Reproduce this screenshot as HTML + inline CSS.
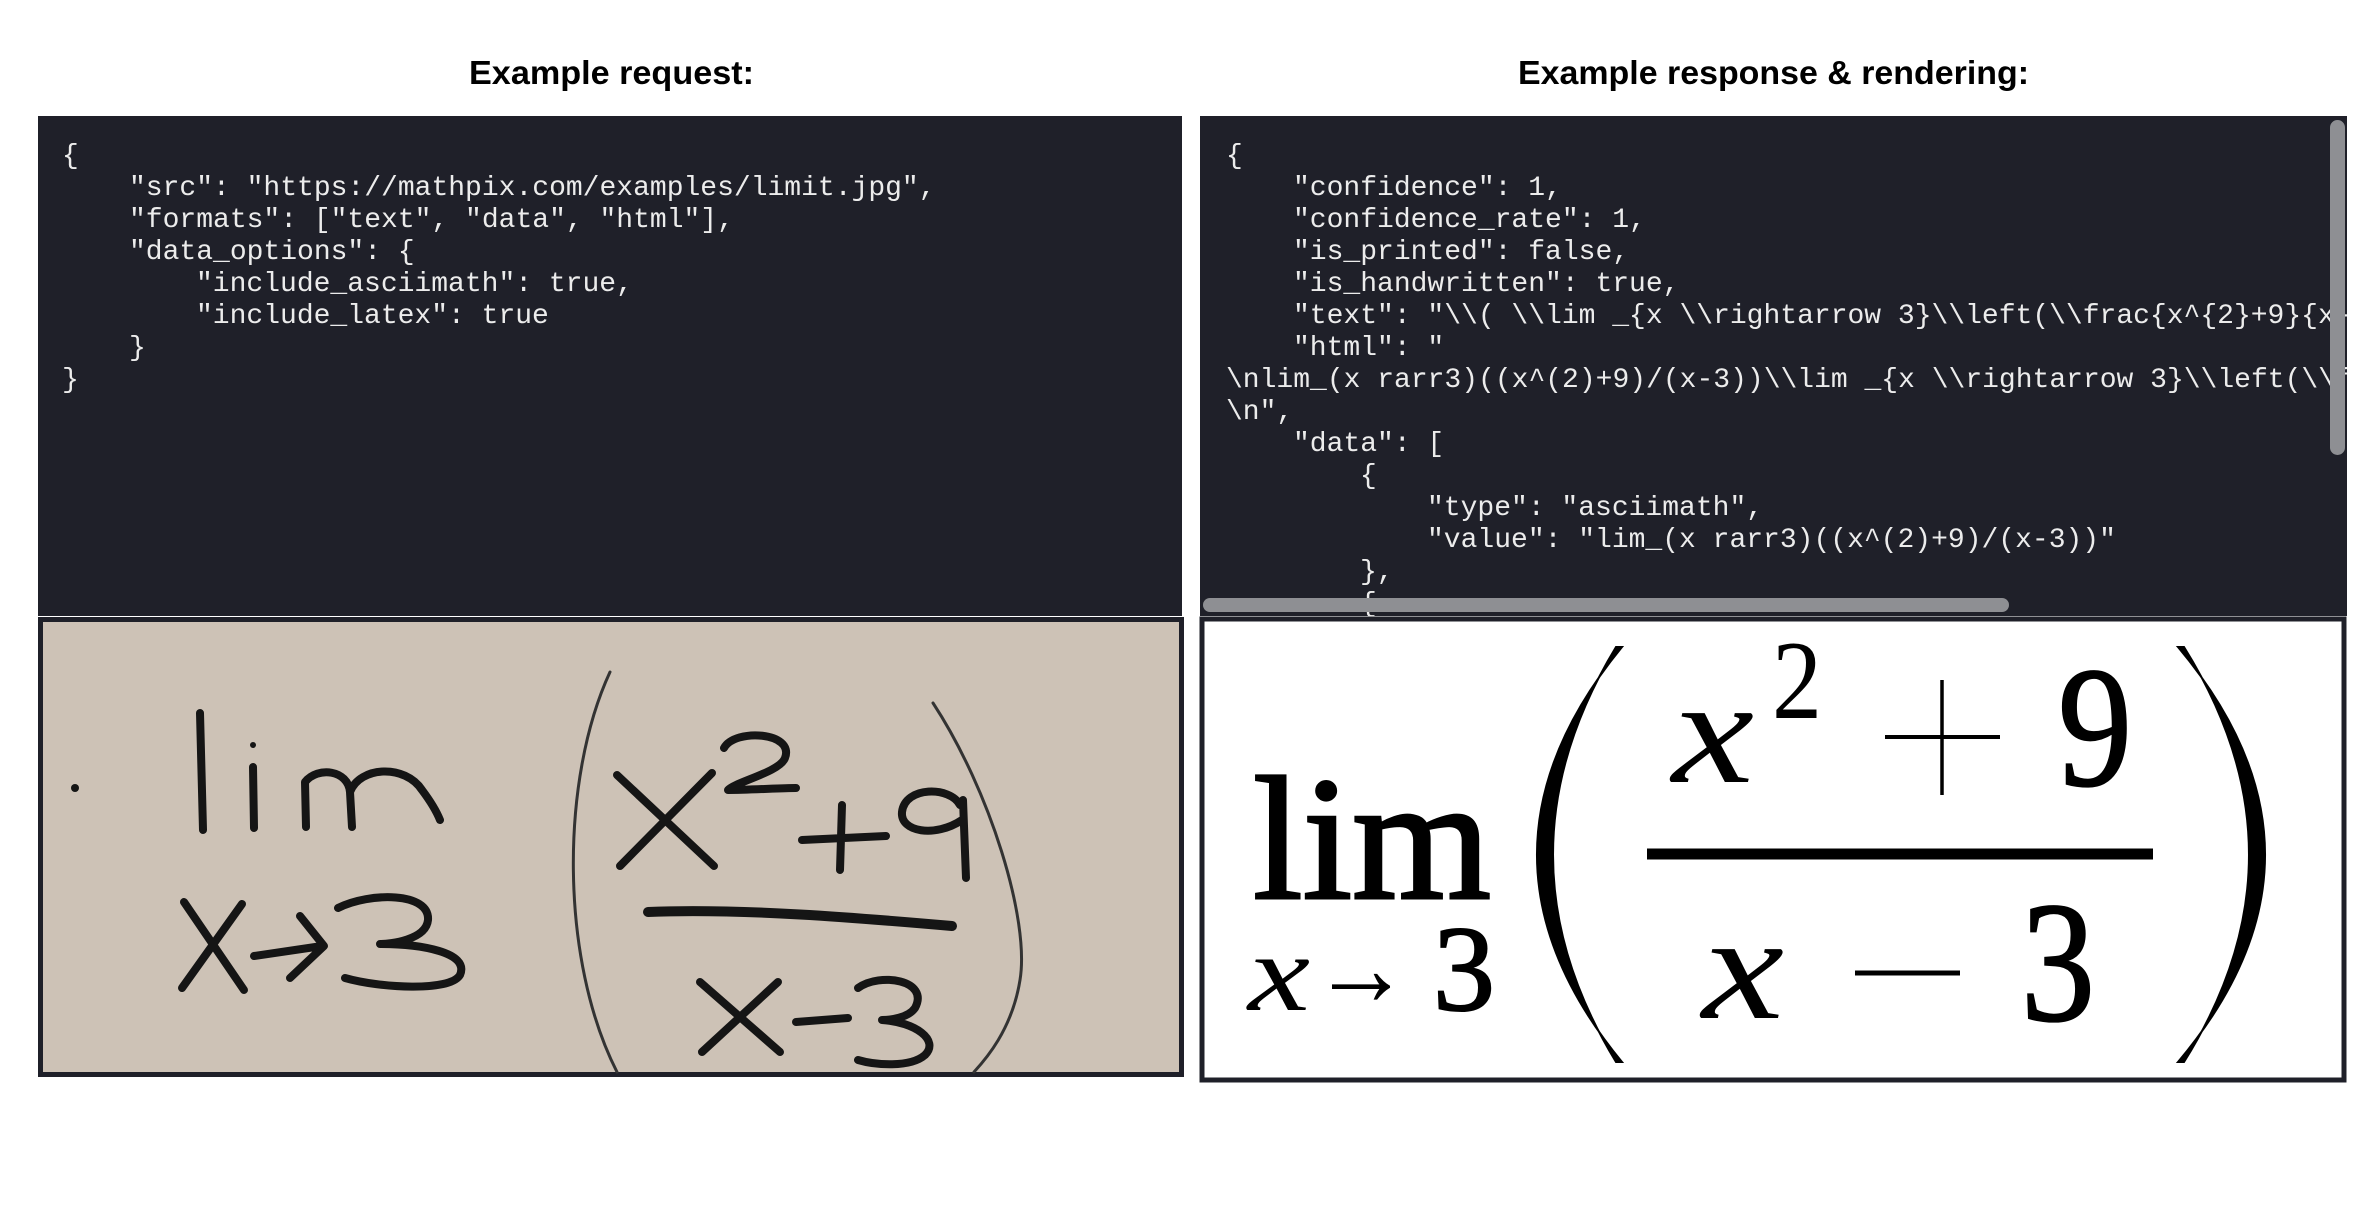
<!DOCTYPE html>
<html><head><meta charset="utf-8"><style>html,body{margin:0;padding:0;background:#fff}svg{display:block}.pre text{white-space:pre}</style></head>
<body>
<svg width="2378" height="1216" viewBox="0 0 2378 1216" xmlns="http://www.w3.org/2000/svg">
<defs>
<clipPath id="cr"><rect x="1200" y="116" width="1147" height="500"/></clipPath>
</defs>
<rect width="2378" height="1216" fill="#fff"/>
<!-- titles -->
<text x="469" y="84" font-family="Liberation Sans, sans-serif" font-weight="bold" font-size="33" textLength="285" lengthAdjust="spacingAndGlyphs" fill="#000">Example request:</text>
<text x="1518" y="84" font-family="Liberation Sans, sans-serif" font-weight="bold" font-size="33" textLength="511" lengthAdjust="spacingAndGlyphs" fill="#000">Example response &amp; rendering:</text>

<!-- left code -->
<rect x="38" y="116" width="1144" height="500" fill="#1f2029"/>
<g class="pre" font-family="Liberation Mono, monospace" font-size="28" fill="#ececec">
<text x="62" y="163">{</text>
<text x="129" y="195">"src": "https://mathpix.com/examples/limit.jpg",</text>
<text x="129" y="227">"formats": ["text", "data", "html"],</text>
<text x="129" y="259">"data_options": {</text>
<text x="196" y="291">"include_asciimath": true,</text>
<text x="196" y="323">"include_latex": true</text>
<text x="129" y="355">}</text>
<text x="62" y="387">}</text>
</g>

<!-- right code -->
<rect x="1200" y="116" width="1147" height="500" fill="#1f2029"/>
<g class="pre" clip-path="url(#cr)" font-family="Liberation Mono, monospace" font-size="28" fill="#ececec">
<text x="1226" y="163">{</text>
<text x="1293" y="195">"confidence": 1,</text>
<text x="1293" y="227">"confidence_rate": 1,</text>
<text x="1293" y="259">"is_printed": false,</text>
<text x="1293" y="291">"is_handwritten": true,</text>
<text x="1293" y="323">"text": "\\( \\lim _{x \\rightarrow 3}\\left(\\frac{x^{2}+9}{x-3}\\right) \\)",</text>
<text x="1293" y="355">"html": "</text>
<text x="1226" y="387">\nlim_(x rarr3)((x^(2)+9)/(x-3))\\lim _{x \\rightarrow 3}\\left(\\frac{x^{2}+9}{x-3}\\right)</text>
<text x="1226" y="419">\n",</text>
<text x="1293" y="451">"data": [</text>
<text x="1360" y="483">{</text>
<text x="1427" y="515">"type": "asciimath",</text>
<text x="1427" y="547">"value": "lim_(x rarr3)((x^(2)+9)/(x-3))"</text>
<text x="1360" y="579">},</text>
<text x="1360" y="611">{</text>
</g>
<rect x="2330" y="120" width="15" height="335" rx="7.5" fill="#8e8f93"/>
<rect x="1203" y="598" width="806" height="14" rx="7" fill="#8e8f93"/>

<!-- photo -->
<rect x="38" y="617" width="1146" height="460" fill="#1f2029"/>
<rect x="43" y="622" width="1136" height="450" fill="#cdc2b6"/>
<g fill="none" stroke="#151515" stroke-width="8" stroke-linecap="round" stroke-linejoin="round">
<circle cx="75" cy="788" r="4" fill="#151515" stroke="none"/>
<path d="M200 713 L203 830"/>
<path d="M253 767 L254 828"/>
<circle cx="253" cy="745" r="3" fill="#151515" stroke="none"/>
<path d="M306 827 L305 782 C318 766 348 770 350 792 L352 827 M350 792 C360 766 405 764 422 790 C434 806 438 815 440 820"/>
<path d="M184 902 L244 990 M242 904 L182 988"/>
<path d="M254 956 L322 946 M300 916 L324 946 L290 978"/>
<path d="M338 908 C370 892 430 892 428 920 C426 940 390 944 380 944 C420 944 470 952 460 975 C450 992 380 988 345 978"/>
<path d="M617 775 L714 866 M712 773 L620 866"/>
<path d="M724 748 C735 728 795 732 785 758 C780 772 735 782 728 790 C750 790 780 788 796 788"/>
<path d="M842 805 L840 870 M802 840 L886 836"/>
<path d="M960 805 C950 786 905 786 902 812 C900 832 935 838 962 820 M963 800 L966 878"/>
<path d="M648 912 C740 908 860 918 952 926" stroke-width="10"/>
<path d="M700 982 L780 1052 M778 982 L702 1052"/>
<path d="M796 1022 L848 1018"/>
<path d="M858 988 C880 972 930 980 915 1008 C908 1018 890 1020 882 1020 C915 1022 940 1040 925 1055 C910 1068 875 1065 858 1060"/>
</g>
<g fill="none" stroke="#333" stroke-width="3" stroke-linecap="round">
<path d="M610 672 C560 780 560 960 617 1072"/>
<path d="M933 703 C990 790 1030 920 1020 980 C1012 1030 985 1060 974 1072"/>
</g>

<!-- rendered math -->
<rect x="1202" y="619" width="1142" height="461" fill="#fff" stroke="#1f2029" stroke-width="5"/>
<g font-family="Liberation Serif, serif" fill="#000">
<text x="1253" y="898" font-size="176" stroke="#000" stroke-width="3" textLength="238" lengthAdjust="spacingAndGlyphs">lim</text>
<text x="1248" y="1010" font-size="110" font-style="italic" textLength="62" lengthAdjust="spacingAndGlyphs">x</text>
<text x="1312" y="1005" font-size="110" textLength="98" lengthAdjust="spacingAndGlyphs">→</text>
<text x="1433" y="1010" font-size="122" stroke="#000" stroke-width="2" textLength="62" lengthAdjust="spacingAndGlyphs">3</text>
<text x="1672" y="782" font-size="150" font-style="italic" textLength="82" lengthAdjust="spacingAndGlyphs">x</text>
<text x="1772" y="718" font-size="112" textLength="50" lengthAdjust="spacingAndGlyphs">2</text>
<text x="2058" y="785" font-size="172" stroke="#000" stroke-width="2" textLength="74" lengthAdjust="spacingAndGlyphs">9</text>
<text x="1702" y="1018" font-size="150" font-style="italic" textLength="82" lengthAdjust="spacingAndGlyphs">x</text>
<text x="2021" y="1020" font-size="172" stroke="#000" stroke-width="2" textLength="74" lengthAdjust="spacingAndGlyphs">3</text>
</g>
<g stroke="#000" fill="none">
<path d="M1942 680 L1942 795" stroke-width="3.5"/>
<path d="M1885 737 L2000 737" stroke-width="4"/>
<path d="M1855 973 L1960 973" stroke-width="5"/>
<path d="M1647 854 L2153 854" stroke-width="11"/>
</g>
<path d="M1622 647 Q1452 855 1622 1062 L1616 1062 Q1490 855 1616 647 Z" fill="#000" stroke="#000" stroke-width="2"/>
<path d="M2178 647 Q2352 855 2178 1062 L2184 1062 Q2314 855 2184 647 Z" fill="#000" stroke="#000" stroke-width="2"/>
</svg>
</body></html>
